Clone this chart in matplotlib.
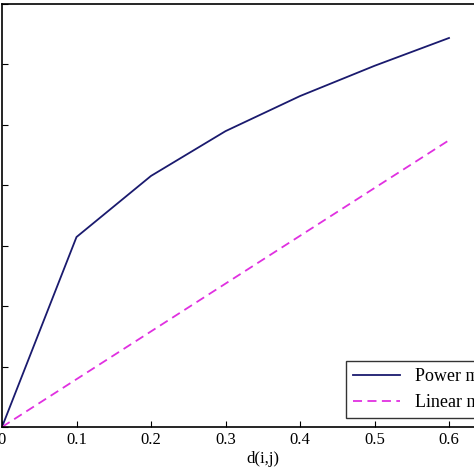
import matplotlib
matplotlib.use("Agg")
import matplotlib.pyplot as plt

x_power = [0, 0.1, 0.2, 0.3, 0.4, 0.5, 0.6]
y_power = [0, 3.14, 4.15, 4.89, 5.47, 5.97, 6.43]
x_linear = [0, 0.6]
y_linear = [0, 4.74]
xticks = [0, 0.1, 0.2, 0.3, 0.4, 0.5, 0.6]
xticklabels = ["0", "0.1", "0.2", "0.3", "0.4", "0.5", "0.6"]

plt.rcParams['font.family'] = ['Liberation Serif', 'DejaVu Serif']
fig = plt.figure(figsize=(4.74, 4.74), dpi=100)
W = 474
ax = fig.add_axes([2/W, 1-427/W, 7*74.5/W, 423.5/W])
l1, = ax.plot(x_power, y_power, color='#1a1a6e', lw=1.3, label='Power model')
l2, = ax.plot(x_linear, y_linear, color='#e030e0', lw=1.3, ls=(0, (5, 3)), label='Linear model')
ax.set_xlim(0, 0.7)
ax.set_ylim(0, 7)
ax.set_xticks(xticks)
ax.set_xticklabels(xticklabels, fontsize=12)
ax.set_yticks(range(8))
ax.set_yticklabels([])
ax.tick_params(direction='in', length=4)
ax.set_xlabel('d(i,j)', fontsize=12, labelpad=2)
for s in ax.spines.values():
    s.set_linewidth(1.2)
leg = fig.legend(handles=[l1, l2], loc='upper left', bbox_to_anchor=(346/W, 1-361/W),
                 fontsize=13, fancybox=False, edgecolor='#333333', framealpha=1,
                 borderaxespad=0, handlelength=2.6)
fig.savefig('out.png', dpi=100)
